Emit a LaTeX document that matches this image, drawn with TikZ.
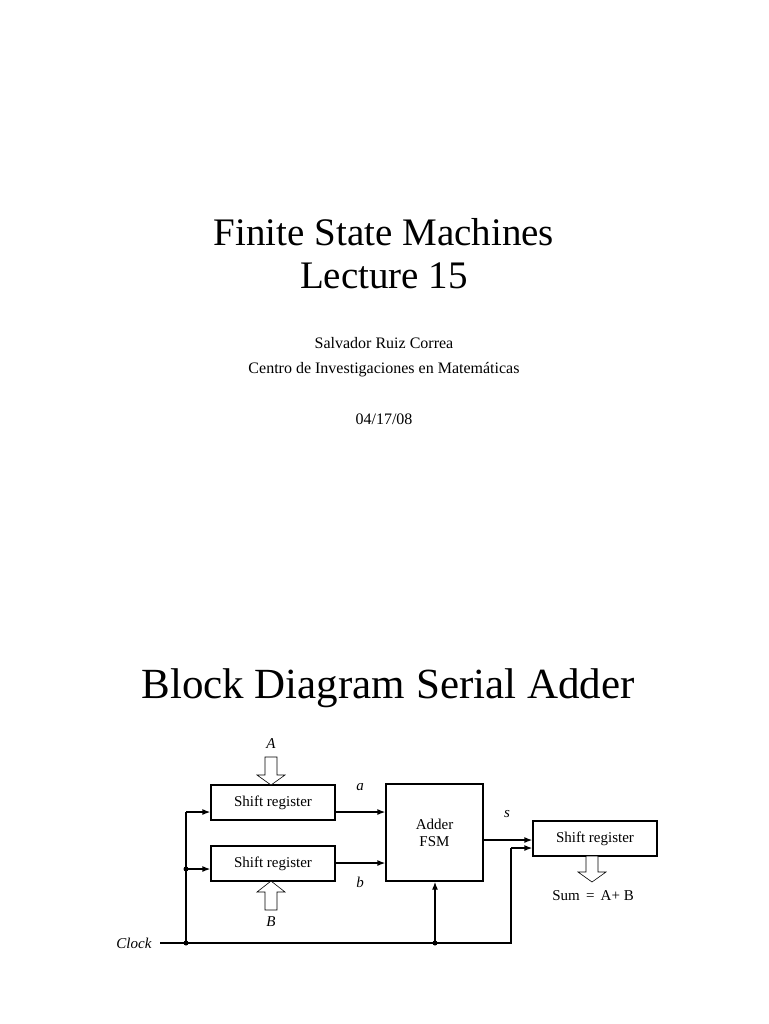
\documentclass[tikz,border=0pt]{standalone}
\usepackage{fontspec}
\setmainfont{Liberation Serif}
\usetikzlibrary{arrows.meta}
\begin{document}
\begin{tikzpicture}[x=1pt,y=-1pt,
 box/.style={draw,line width=1.3pt,minimum height=35pt,minimum width=124pt,inner sep=0,font=\fontsize{15}{17}\selectfont},
 arr/.style={line width=1.3pt,-{Latex[length=8pt,width=6pt]}},
 ln/.style={line width=1.3pt},
 lbl/.style={font=\fontsize{15}{17}\selectfont\itshape},
 hol/.style={draw,fill=white,line width=0.6pt}]
\useasboundingbox (0,0) rectangle (768,1024);
\node[font=\fontsize{39}{43}\selectfont] (t1) at (384,232) {Finite State Machines};
\node[font=\fontsize{39}{43}\selectfont] (t2) at (384,276) {Lecture 15};
\node[font=\fontsize{16}{18}\selectfont] (au) at (384,343) {Salvador Ruiz Correa};
\node[font=\fontsize{16}{18}\selectfont] (in) at (384,370) {Centro de Investigaciones en Matemáticas};
\node[font=\fontsize{16}{18}\selectfont] (dt) at (384,419) {04/17/08};
\node[font=\fontsize{43}{47}\selectfont] (t3) at (388,688) {Block Diagram Serial Adder};

\node[box] (sr1) at (273,802.5) {Shift register};
\node[box] (sr2) at (273,863.5) {Shift register};
\node[draw,line width=1.3pt,minimum width=97pt,minimum height=97pt,inner sep=0,align=center,font=\fontsize{15}{17}\selectfont] (fsm) at (434.5,832.5) {Adder\\FSM};
\node[box] (sr3) at (595,838.5) {Shift register};

\coordinate (ck) at (160,943);
\coordinate (j1) at (186,943);
\coordinate (j2) at (186,869);
\coordinate (j3) at (435,943);
\coordinate (j4) at (511,943);
\node[lbl,anchor=east] (clk) at (155,943) {Clock};
\draw[ln] (ck) -- (j4) -- (511,848) coordinate (c5);
\draw[arr] (c5) -- (sr3.west |- c5);
\draw[ln] (j1) -- (186,812) coordinate (c1);
\draw[arr] (c1) -- (sr1.west |- c1);
\draw[arr] (j2) -- (sr2.west |- j2);
\draw[arr] (j3) -- (fsm.south -| j3);
\foreach \p in {j1,j2,j3} \fill (\p) circle (2.5pt);
\draw[arr] (sr1.east |- 0,812) -- (fsm.west |- 0,812);
\draw[arr] (sr2.east |- 0,863) -- (fsm.west |- 0,863);
\draw[arr] (fsm.east |- 0,840) -- (sr3.west |- 0,840);
\node[lbl] (la) at (360,787) {a};
\node[lbl] (lb) at (360,882) {b};
\node[lbl] (ls) at (507,814) {s};
\node[lbl] (lA) at (271,744) {A};
\node[lbl] (lB) at (271,922) {B};
% hollow arrows
\draw[hol] (265,757) -- (277,757) -- (277,775) -- (285,775) -- (271,785) -- (257,775) -- (265,775) -- cycle;
\draw[hol] (265,910) -- (277,910) -- (277,892) -- (285,892) -- (271,881) -- (257,892) -- (265,892) -- cycle;
\draw[hol] (586,856) -- (598,856) -- (598,872) -- (606,872) -- (592,882) -- (578,872) -- (586,872) -- cycle;
\node[font=\fontsize{15}{17}\selectfont] (sum) at (593,896) {Sum \,=\, A+ B};
\end{tikzpicture}
\end{document}
